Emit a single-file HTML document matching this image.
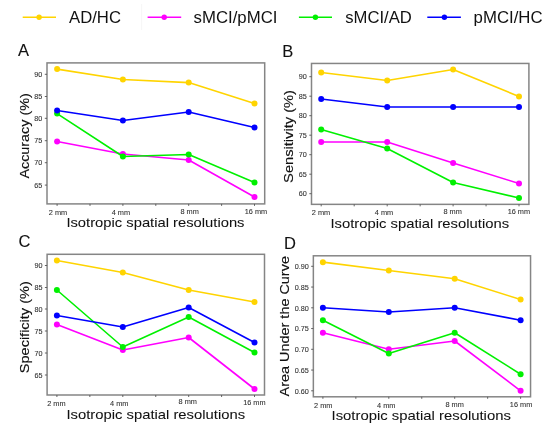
<!DOCTYPE html>
<html><head><meta charset="utf-8"><style>
html,body{margin:0;padding:0;background:#fff;}
svg{display:block;filter:blur(0.25px);}
text{font-family:"Liberation Sans",sans-serif;}
</style></head><body>
<svg width="550" height="428" viewBox="0 0 550 428">
<rect width="550" height="428" fill="#fff"/>
<line x1="141.7" y1="4" x2="141.7" y2="30" stroke="#f6f6f6" stroke-width="1"/>
<line x1="22.7" y1="17.3" x2="56" y2="17.3" stroke="#ffd400" stroke-width="1.6"/>
<circle cx="39.1" cy="17.3" r="2.7" fill="#ffd400"/>
<text x="69.0" y="23.3" font-size="15.6" text-anchor="start" fill="#111" textLength="52.0" lengthAdjust="spacingAndGlyphs" >AD/HC</text>
<line x1="147.6" y1="17.3" x2="181.2" y2="17.3" stroke="#ff00ff" stroke-width="1.6"/>
<circle cx="164.2" cy="17.3" r="2.7" fill="#ff00ff"/>
<text x="193.6" y="23.3" font-size="15.6" text-anchor="start" fill="#111" textLength="83.8" lengthAdjust="spacingAndGlyphs" >sMCI/pMCI</text>
<line x1="298.9" y1="17.3" x2="332" y2="17.3" stroke="#00f000" stroke-width="1.6"/>
<circle cx="315.4" cy="17.3" r="2.7" fill="#00f000"/>
<text x="345.2" y="23.3" font-size="15.6" text-anchor="start" fill="#111" textLength="66.6" lengthAdjust="spacingAndGlyphs" >sMCI/AD</text>
<line x1="427.3" y1="17.3" x2="460.9" y2="17.3" stroke="#0000ff" stroke-width="1.6"/>
<circle cx="444.4" cy="17.3" r="2.7" fill="#0000ff"/>
<text x="473.6" y="23.3" font-size="15.6" text-anchor="start" fill="#111" textLength="69.0" lengthAdjust="spacingAndGlyphs" >pMCI/HC</text>
<rect x="47.0" y="62.9" width="217.7" height="141.0" fill="none" stroke="#858585" stroke-width="1.5"/>
<line x1="57.10" y1="203.9" x2="57.10" y2="205.9" stroke="#555" stroke-width="0.9"/>
<line x1="90.00" y1="203.9" x2="90.00" y2="205.9" stroke="#555" stroke-width="0.9"/>
<line x1="122.90" y1="203.9" x2="122.90" y2="205.9" stroke="#555" stroke-width="0.9"/>
<line x1="155.80" y1="203.9" x2="155.80" y2="205.9" stroke="#555" stroke-width="0.9"/>
<line x1="188.70" y1="203.9" x2="188.70" y2="205.9" stroke="#555" stroke-width="0.9"/>
<line x1="221.60" y1="203.9" x2="221.60" y2="205.9" stroke="#555" stroke-width="0.9"/>
<line x1="254.50" y1="203.9" x2="254.50" y2="205.9" stroke="#555" stroke-width="0.9"/>
<text x="58.0" y="214.9" font-size="7.3" text-anchor="middle" fill="#303030" stroke="#303030" stroke-width="0.08" textLength="18.4" lengthAdjust="spacingAndGlyphs" >2 mm</text>
<text x="120.9" y="214.6" font-size="7.3" text-anchor="middle" fill="#303030" stroke="#303030" stroke-width="0.08" textLength="18.4" lengthAdjust="spacingAndGlyphs" >4 mm</text>
<text x="189.6" y="213.8" font-size="7.3" text-anchor="middle" fill="#303030" stroke="#303030" stroke-width="0.08" textLength="18.4" lengthAdjust="spacingAndGlyphs" >8 mm</text>
<text x="256.0" y="214.0" font-size="7.3" text-anchor="middle" fill="#303030" stroke="#303030" stroke-width="0.08" textLength="22.43" lengthAdjust="spacingAndGlyphs" >16 mm</text>
<line x1="44.8" y1="74.3" x2="47.0" y2="74.3" stroke="#555" stroke-width="0.9"/>
<text x="42.4" y="77.05" font-size="7.3" text-anchor="end" fill="#303030" stroke="#303030" stroke-width="0.08" textLength="8.06" lengthAdjust="spacingAndGlyphs" >90</text>
<line x1="44.8" y1="96.5" x2="47.0" y2="96.5" stroke="#555" stroke-width="0.9"/>
<text x="42.4" y="99.25" font-size="7.3" text-anchor="end" fill="#303030" stroke="#303030" stroke-width="0.08" textLength="8.06" lengthAdjust="spacingAndGlyphs" >85</text>
<line x1="44.8" y1="118.3" x2="47.0" y2="118.3" stroke="#555" stroke-width="0.9"/>
<text x="42.4" y="121.05" font-size="7.3" text-anchor="end" fill="#303030" stroke="#303030" stroke-width="0.08" textLength="8.06" lengthAdjust="spacingAndGlyphs" >80</text>
<line x1="44.8" y1="140.7" x2="47.0" y2="140.7" stroke="#555" stroke-width="0.9"/>
<text x="42.4" y="143.45" font-size="7.3" text-anchor="end" fill="#303030" stroke="#303030" stroke-width="0.08" textLength="8.06" lengthAdjust="spacingAndGlyphs" >75</text>
<line x1="44.8" y1="162.7" x2="47.0" y2="162.7" stroke="#555" stroke-width="0.9"/>
<text x="42.4" y="165.45" font-size="7.3" text-anchor="end" fill="#303030" stroke="#303030" stroke-width="0.08" textLength="8.06" lengthAdjust="spacingAndGlyphs" >70</text>
<line x1="44.8" y1="185.1" x2="47.0" y2="185.1" stroke="#555" stroke-width="0.9"/>
<text x="42.4" y="187.85" font-size="7.3" text-anchor="end" fill="#303030" stroke="#303030" stroke-width="0.08" textLength="8.06" lengthAdjust="spacingAndGlyphs" >65</text>
<polyline points="57.10,69.1 122.90,79.5 188.70,82.6 254.50,103.5" fill="none" stroke="#ffd400" stroke-width="1.6" stroke-linejoin="round"/>
<circle cx="57.10" cy="69.1" r="3.0" fill="#ffd400"/>
<circle cx="122.90" cy="79.5" r="3.0" fill="#ffd400"/>
<circle cx="188.70" cy="82.6" r="3.0" fill="#ffd400"/>
<circle cx="254.50" cy="103.5" r="3.0" fill="#ffd400"/>
<polyline points="57.10,141.5 122.90,154 188.70,160 254.50,197" fill="none" stroke="#ff00ff" stroke-width="1.6" stroke-linejoin="round"/>
<circle cx="57.10" cy="141.5" r="3.0" fill="#ff00ff"/>
<circle cx="122.90" cy="154" r="3.0" fill="#ff00ff"/>
<circle cx="188.70" cy="160" r="3.0" fill="#ff00ff"/>
<circle cx="254.50" cy="197" r="3.0" fill="#ff00ff"/>
<polyline points="57.10,113.6 122.90,156.5 188.70,154.5 254.50,182.5" fill="none" stroke="#00f000" stroke-width="1.6" stroke-linejoin="round"/>
<circle cx="57.10" cy="113.6" r="3.0" fill="#00f000"/>
<circle cx="122.90" cy="156.5" r="3.0" fill="#00f000"/>
<circle cx="188.70" cy="154.5" r="3.0" fill="#00f000"/>
<circle cx="254.50" cy="182.5" r="3.0" fill="#00f000"/>
<polyline points="57.10,110.5 122.90,120.5 188.70,112 254.50,127.5" fill="none" stroke="#0000ff" stroke-width="1.6" stroke-linejoin="round"/>
<circle cx="57.10" cy="110.5" r="3.0" fill="#0000ff"/>
<circle cx="122.90" cy="120.5" r="3.0" fill="#0000ff"/>
<circle cx="188.70" cy="112" r="3.0" fill="#0000ff"/>
<circle cx="254.50" cy="127.5" r="3.0" fill="#0000ff"/>
<text x="18" y="55.7" font-size="16.5" text-anchor="start" fill="#111" stroke="#111" stroke-width="0.1" >A</text>
<text x="0" y="0" font-size="12.8" text-anchor="middle" fill="#111" textLength="85.3" lengthAdjust="spacingAndGlyphs" stroke="#111" stroke-width="0.15" transform="translate(28.5,135.95) rotate(-90)">Accuracy (%)</text>
<text x="66.39999999999999" y="227.1" font-size="13.6" text-anchor="start" fill="#111" stroke="#111" stroke-width="0.06" textLength="178.1" lengthAdjust="spacingAndGlyphs" >Isotropic spatial resolutions</text>
<rect x="311.5" y="63.45" width="217.4" height="140.9" fill="none" stroke="#858585" stroke-width="1.5"/>
<line x1="321.20" y1="204.35" x2="321.20" y2="206.35" stroke="#555" stroke-width="0.9"/>
<line x1="354.20" y1="204.35" x2="354.20" y2="206.35" stroke="#555" stroke-width="0.9"/>
<line x1="387.20" y1="204.35" x2="387.20" y2="206.35" stroke="#555" stroke-width="0.9"/>
<line x1="420.15" y1="204.35" x2="420.15" y2="206.35" stroke="#555" stroke-width="0.9"/>
<line x1="453.10" y1="204.35" x2="453.10" y2="206.35" stroke="#555" stroke-width="0.9"/>
<line x1="486.05" y1="204.35" x2="486.05" y2="206.35" stroke="#555" stroke-width="0.9"/>
<line x1="519.00" y1="204.35" x2="519.00" y2="206.35" stroke="#555" stroke-width="0.9"/>
<text x="321.0" y="214.9" font-size="7.3" text-anchor="middle" fill="#303030" stroke="#303030" stroke-width="0.08" textLength="18.4" lengthAdjust="spacingAndGlyphs" >2 mm</text>
<text x="384.0" y="214.5" font-size="7.3" text-anchor="middle" fill="#303030" stroke="#303030" stroke-width="0.08" textLength="18.4" lengthAdjust="spacingAndGlyphs" >4 mm</text>
<text x="452.6" y="213.8" font-size="7.3" text-anchor="middle" fill="#303030" stroke="#303030" stroke-width="0.08" textLength="18.4" lengthAdjust="spacingAndGlyphs" >8 mm</text>
<text x="518.9" y="214.0" font-size="7.3" text-anchor="middle" fill="#303030" stroke="#303030" stroke-width="0.08" textLength="22.43" lengthAdjust="spacingAndGlyphs" >16 mm</text>
<line x1="309.3" y1="76.7" x2="311.5" y2="76.7" stroke="#555" stroke-width="0.9"/>
<text x="306.9" y="79.45" font-size="7.3" text-anchor="end" fill="#303030" stroke="#303030" stroke-width="0.08" textLength="8.06" lengthAdjust="spacingAndGlyphs" >90</text>
<line x1="309.3" y1="96.2" x2="311.5" y2="96.2" stroke="#555" stroke-width="0.9"/>
<text x="306.9" y="98.95" font-size="7.3" text-anchor="end" fill="#303030" stroke="#303030" stroke-width="0.08" textLength="8.06" lengthAdjust="spacingAndGlyphs" >85</text>
<line x1="309.3" y1="115.7" x2="311.5" y2="115.7" stroke="#555" stroke-width="0.9"/>
<text x="306.9" y="118.45" font-size="7.3" text-anchor="end" fill="#303030" stroke="#303030" stroke-width="0.08" textLength="8.06" lengthAdjust="spacingAndGlyphs" >80</text>
<line x1="309.3" y1="135.2" x2="311.5" y2="135.2" stroke="#555" stroke-width="0.9"/>
<text x="306.9" y="137.95" font-size="7.3" text-anchor="end" fill="#303030" stroke="#303030" stroke-width="0.08" textLength="8.06" lengthAdjust="spacingAndGlyphs" >75</text>
<line x1="309.3" y1="154.7" x2="311.5" y2="154.7" stroke="#555" stroke-width="0.9"/>
<text x="306.9" y="157.45" font-size="7.3" text-anchor="end" fill="#303030" stroke="#303030" stroke-width="0.08" textLength="8.06" lengthAdjust="spacingAndGlyphs" >70</text>
<line x1="309.3" y1="174.2" x2="311.5" y2="174.2" stroke="#555" stroke-width="0.9"/>
<text x="306.9" y="176.95" font-size="7.3" text-anchor="end" fill="#303030" stroke="#303030" stroke-width="0.08" textLength="8.06" lengthAdjust="spacingAndGlyphs" >65</text>
<line x1="309.3" y1="193.7" x2="311.5" y2="193.7" stroke="#555" stroke-width="0.9"/>
<text x="306.9" y="196.45" font-size="7.3" text-anchor="end" fill="#303030" stroke="#303030" stroke-width="0.08" textLength="8.06" lengthAdjust="spacingAndGlyphs" >60</text>
<polyline points="321.20,72.5 387.20,80.5 453.10,69.5 519.00,96.5" fill="none" stroke="#ffd400" stroke-width="1.6" stroke-linejoin="round"/>
<circle cx="321.20" cy="72.5" r="3.0" fill="#ffd400"/>
<circle cx="387.20" cy="80.5" r="3.0" fill="#ffd400"/>
<circle cx="453.10" cy="69.5" r="3.0" fill="#ffd400"/>
<circle cx="519.00" cy="96.5" r="3.0" fill="#ffd400"/>
<polyline points="321.20,142 387.20,142 453.10,163 519.00,183.5" fill="none" stroke="#ff00ff" stroke-width="1.6" stroke-linejoin="round"/>
<circle cx="321.20" cy="142" r="3.0" fill="#ff00ff"/>
<circle cx="387.20" cy="142" r="3.0" fill="#ff00ff"/>
<circle cx="453.10" cy="163" r="3.0" fill="#ff00ff"/>
<circle cx="519.00" cy="183.5" r="3.0" fill="#ff00ff"/>
<polyline points="321.20,129.5 387.20,148.5 453.10,182.5 519.00,198" fill="none" stroke="#00f000" stroke-width="1.6" stroke-linejoin="round"/>
<circle cx="321.20" cy="129.5" r="3.0" fill="#00f000"/>
<circle cx="387.20" cy="148.5" r="3.0" fill="#00f000"/>
<circle cx="453.10" cy="182.5" r="3.0" fill="#00f000"/>
<circle cx="519.00" cy="198" r="3.0" fill="#00f000"/>
<polyline points="321.20,99 387.20,107 453.10,107 519.00,107" fill="none" stroke="#0000ff" stroke-width="1.6" stroke-linejoin="round"/>
<circle cx="321.20" cy="99" r="3.0" fill="#0000ff"/>
<circle cx="387.20" cy="107" r="3.0" fill="#0000ff"/>
<circle cx="453.10" cy="107" r="3.0" fill="#0000ff"/>
<circle cx="519.00" cy="107" r="3.0" fill="#0000ff"/>
<text x="282.2" y="56.6" font-size="16.5" text-anchor="start" fill="#111" stroke="#111" stroke-width="0.1" >B</text>
<text x="0" y="0" font-size="12.8" text-anchor="middle" fill="#111" textLength="92.8" lengthAdjust="spacingAndGlyphs" stroke="#111" stroke-width="0.15" transform="translate(293.0,136.5) rotate(-90)">Sensitivity (%)</text>
<text x="330.40000000000003" y="228.0" font-size="13.6" text-anchor="start" fill="#111" stroke="#111" stroke-width="0.06" textLength="178.7" lengthAdjust="spacingAndGlyphs" >Isotropic spatial resolutions</text>
<rect x="47.1" y="254.3" width="217.4" height="140.7" fill="none" stroke="#858585" stroke-width="1.5"/>
<line x1="56.90" y1="395.0" x2="56.90" y2="397.0" stroke="#555" stroke-width="0.9"/>
<line x1="89.85" y1="395.0" x2="89.85" y2="397.0" stroke="#555" stroke-width="0.9"/>
<line x1="122.80" y1="395.0" x2="122.80" y2="397.0" stroke="#555" stroke-width="0.9"/>
<line x1="155.75" y1="395.0" x2="155.75" y2="397.0" stroke="#555" stroke-width="0.9"/>
<line x1="188.70" y1="395.0" x2="188.70" y2="397.0" stroke="#555" stroke-width="0.9"/>
<line x1="221.60" y1="395.0" x2="221.60" y2="397.0" stroke="#555" stroke-width="0.9"/>
<line x1="254.50" y1="395.0" x2="254.50" y2="397.0" stroke="#555" stroke-width="0.9"/>
<text x="56.4" y="405.5" font-size="7.3" text-anchor="middle" fill="#303030" stroke="#303030" stroke-width="0.08" textLength="18.4" lengthAdjust="spacingAndGlyphs" >2 mm</text>
<text x="119.2" y="405.5" font-size="7.3" text-anchor="middle" fill="#303030" stroke="#303030" stroke-width="0.08" textLength="18.4" lengthAdjust="spacingAndGlyphs" >4 mm</text>
<text x="187.8" y="404.4" font-size="7.3" text-anchor="middle" fill="#303030" stroke="#303030" stroke-width="0.08" textLength="18.4" lengthAdjust="spacingAndGlyphs" >8 mm</text>
<text x="254.4" y="404.9" font-size="7.3" text-anchor="middle" fill="#303030" stroke="#303030" stroke-width="0.08" textLength="22.43" lengthAdjust="spacingAndGlyphs" >16 mm</text>
<line x1="44.9" y1="265.5" x2="47.1" y2="265.5" stroke="#555" stroke-width="0.9"/>
<text x="42.5" y="268.25" font-size="7.3" text-anchor="end" fill="#303030" stroke="#303030" stroke-width="0.08" textLength="8.06" lengthAdjust="spacingAndGlyphs" >90</text>
<line x1="44.9" y1="287.5" x2="47.1" y2="287.5" stroke="#555" stroke-width="0.9"/>
<text x="42.5" y="290.25" font-size="7.3" text-anchor="end" fill="#303030" stroke="#303030" stroke-width="0.08" textLength="8.06" lengthAdjust="spacingAndGlyphs" >85</text>
<line x1="44.9" y1="309" x2="47.1" y2="309" stroke="#555" stroke-width="0.9"/>
<text x="42.5" y="311.75" font-size="7.3" text-anchor="end" fill="#303030" stroke="#303030" stroke-width="0.08" textLength="8.06" lengthAdjust="spacingAndGlyphs" >80</text>
<line x1="44.9" y1="331" x2="47.1" y2="331" stroke="#555" stroke-width="0.9"/>
<text x="42.5" y="333.75" font-size="7.3" text-anchor="end" fill="#303030" stroke="#303030" stroke-width="0.08" textLength="8.06" lengthAdjust="spacingAndGlyphs" >75</text>
<line x1="44.9" y1="353" x2="47.1" y2="353" stroke="#555" stroke-width="0.9"/>
<text x="42.5" y="355.75" font-size="7.3" text-anchor="end" fill="#303030" stroke="#303030" stroke-width="0.08" textLength="8.06" lengthAdjust="spacingAndGlyphs" >70</text>
<line x1="44.9" y1="375" x2="47.1" y2="375" stroke="#555" stroke-width="0.9"/>
<text x="42.5" y="377.75" font-size="7.3" text-anchor="end" fill="#303030" stroke="#303030" stroke-width="0.08" textLength="8.06" lengthAdjust="spacingAndGlyphs" >65</text>
<polyline points="56.90,260.5 122.80,272.5 188.70,290 254.50,302" fill="none" stroke="#ffd400" stroke-width="1.6" stroke-linejoin="round"/>
<circle cx="56.90" cy="260.5" r="3.0" fill="#ffd400"/>
<circle cx="122.80" cy="272.5" r="3.0" fill="#ffd400"/>
<circle cx="188.70" cy="290" r="3.0" fill="#ffd400"/>
<circle cx="254.50" cy="302" r="3.0" fill="#ffd400"/>
<polyline points="56.90,324.5 122.80,350 188.70,337.5 254.50,389" fill="none" stroke="#ff00ff" stroke-width="1.6" stroke-linejoin="round"/>
<circle cx="56.90" cy="324.5" r="3.0" fill="#ff00ff"/>
<circle cx="122.80" cy="350" r="3.0" fill="#ff00ff"/>
<circle cx="188.70" cy="337.5" r="3.0" fill="#ff00ff"/>
<circle cx="254.50" cy="389" r="3.0" fill="#ff00ff"/>
<polyline points="56.90,290 122.80,347 188.70,317 254.50,352.5" fill="none" stroke="#00f000" stroke-width="1.6" stroke-linejoin="round"/>
<circle cx="56.90" cy="290" r="3.0" fill="#00f000"/>
<circle cx="122.80" cy="347" r="3.0" fill="#00f000"/>
<circle cx="188.70" cy="317" r="3.0" fill="#00f000"/>
<circle cx="254.50" cy="352.5" r="3.0" fill="#00f000"/>
<polyline points="56.90,315.5 122.80,327 188.70,307.5 254.50,342.5" fill="none" stroke="#0000ff" stroke-width="1.6" stroke-linejoin="round"/>
<circle cx="56.90" cy="315.5" r="3.0" fill="#0000ff"/>
<circle cx="122.80" cy="327" r="3.0" fill="#0000ff"/>
<circle cx="188.70" cy="307.5" r="3.0" fill="#0000ff"/>
<circle cx="254.50" cy="342.5" r="3.0" fill="#0000ff"/>
<text x="18.6" y="247.3" font-size="16.5" text-anchor="start" fill="#111" stroke="#111" stroke-width="0.1" >C</text>
<text x="0" y="0" font-size="12.8" text-anchor="middle" fill="#111" textLength="91.9" lengthAdjust="spacingAndGlyphs" stroke="#111" stroke-width="0.15" transform="translate(28.8,327.25) rotate(-90)">Specificity (%)</text>
<text x="66.39999999999999" y="419.09999999999997" font-size="13.6" text-anchor="start" fill="#111" stroke="#111" stroke-width="0.06" textLength="178.7" lengthAdjust="spacingAndGlyphs" >Isotropic spatial resolutions</text>
<rect x="313.35" y="255.8" width="217.2" height="141.0" fill="none" stroke="#858585" stroke-width="1.5"/>
<line x1="322.90" y1="396.8" x2="322.90" y2="398.8" stroke="#555" stroke-width="0.9"/>
<line x1="355.85" y1="396.8" x2="355.85" y2="398.8" stroke="#555" stroke-width="0.9"/>
<line x1="388.80" y1="396.8" x2="388.80" y2="398.8" stroke="#555" stroke-width="0.9"/>
<line x1="421.75" y1="396.8" x2="421.75" y2="398.8" stroke="#555" stroke-width="0.9"/>
<line x1="454.70" y1="396.8" x2="454.70" y2="398.8" stroke="#555" stroke-width="0.9"/>
<line x1="487.65" y1="396.8" x2="487.65" y2="398.8" stroke="#555" stroke-width="0.9"/>
<line x1="520.60" y1="396.8" x2="520.60" y2="398.8" stroke="#555" stroke-width="0.9"/>
<text x="323.2" y="407.6" font-size="7.3" text-anchor="middle" fill="#303030" stroke="#303030" stroke-width="0.08" textLength="18.4" lengthAdjust="spacingAndGlyphs" >2 mm</text>
<text x="386.2" y="407.6" font-size="7.3" text-anchor="middle" fill="#303030" stroke="#303030" stroke-width="0.08" textLength="18.4" lengthAdjust="spacingAndGlyphs" >4 mm</text>
<text x="454.6" y="406.5" font-size="7.3" text-anchor="middle" fill="#303030" stroke="#303030" stroke-width="0.08" textLength="18.4" lengthAdjust="spacingAndGlyphs" >8 mm</text>
<text x="521.1" y="407.1" font-size="7.3" text-anchor="middle" fill="#303030" stroke="#303030" stroke-width="0.08" textLength="22.43" lengthAdjust="spacingAndGlyphs" >16 mm</text>
<line x1="311.15000000000003" y1="266.3" x2="313.35" y2="266.3" stroke="#555" stroke-width="0.9"/>
<text x="308.75" y="269.05" font-size="7.3" text-anchor="end" fill="#303030" stroke="#303030" stroke-width="0.08" textLength="14.11" lengthAdjust="spacingAndGlyphs" >0.90</text>
<line x1="311.15000000000003" y1="287.05" x2="313.35" y2="287.05" stroke="#555" stroke-width="0.9"/>
<text x="308.75" y="289.8" font-size="7.3" text-anchor="end" fill="#303030" stroke="#303030" stroke-width="0.08" textLength="14.11" lengthAdjust="spacingAndGlyphs" >0.85</text>
<line x1="311.15000000000003" y1="307.8" x2="313.35" y2="307.8" stroke="#555" stroke-width="0.9"/>
<text x="308.75" y="310.55" font-size="7.3" text-anchor="end" fill="#303030" stroke="#303030" stroke-width="0.08" textLength="14.11" lengthAdjust="spacingAndGlyphs" >0.80</text>
<line x1="311.15000000000003" y1="328.55" x2="313.35" y2="328.55" stroke="#555" stroke-width="0.9"/>
<text x="308.75" y="331.3" font-size="7.3" text-anchor="end" fill="#303030" stroke="#303030" stroke-width="0.08" textLength="14.11" lengthAdjust="spacingAndGlyphs" >0.75</text>
<line x1="311.15000000000003" y1="349.3" x2="313.35" y2="349.3" stroke="#555" stroke-width="0.9"/>
<text x="308.75" y="352.05" font-size="7.3" text-anchor="end" fill="#303030" stroke="#303030" stroke-width="0.08" textLength="14.11" lengthAdjust="spacingAndGlyphs" >0.70</text>
<line x1="311.15000000000003" y1="370.05" x2="313.35" y2="370.05" stroke="#555" stroke-width="0.9"/>
<text x="308.75" y="372.8" font-size="7.3" text-anchor="end" fill="#303030" stroke="#303030" stroke-width="0.08" textLength="14.11" lengthAdjust="spacingAndGlyphs" >0.65</text>
<line x1="311.15000000000003" y1="390.8" x2="313.35" y2="390.8" stroke="#555" stroke-width="0.9"/>
<text x="308.75" y="393.55" font-size="7.3" text-anchor="end" fill="#303030" stroke="#303030" stroke-width="0.08" textLength="14.11" lengthAdjust="spacingAndGlyphs" >0.60</text>
<polyline points="322.90,262.15 388.80,270.45 454.70,278.75 520.60,299.5" fill="none" stroke="#ffd400" stroke-width="1.6" stroke-linejoin="round"/>
<circle cx="322.90" cy="262.15" r="3.0" fill="#ffd400"/>
<circle cx="388.80" cy="270.45" r="3.0" fill="#ffd400"/>
<circle cx="454.70" cy="278.75" r="3.0" fill="#ffd400"/>
<circle cx="520.60" cy="299.5" r="3.0" fill="#ffd400"/>
<polyline points="322.90,332.7 388.80,349.3 454.70,341 520.60,390.8" fill="none" stroke="#ff00ff" stroke-width="1.6" stroke-linejoin="round"/>
<circle cx="322.90" cy="332.7" r="3.0" fill="#ff00ff"/>
<circle cx="388.80" cy="349.3" r="3.0" fill="#ff00ff"/>
<circle cx="454.70" cy="341" r="3.0" fill="#ff00ff"/>
<circle cx="520.60" cy="390.8" r="3.0" fill="#ff00ff"/>
<polyline points="322.90,320.25 388.80,353.45 454.70,332.7 520.60,374.2" fill="none" stroke="#00f000" stroke-width="1.6" stroke-linejoin="round"/>
<circle cx="322.90" cy="320.25" r="3.0" fill="#00f000"/>
<circle cx="388.80" cy="353.45" r="3.0" fill="#00f000"/>
<circle cx="454.70" cy="332.7" r="3.0" fill="#00f000"/>
<circle cx="520.60" cy="374.2" r="3.0" fill="#00f000"/>
<polyline points="322.90,307.8 388.80,311.95 454.70,307.8 520.60,320.25" fill="none" stroke="#0000ff" stroke-width="1.6" stroke-linejoin="round"/>
<circle cx="322.90" cy="307.8" r="3.0" fill="#0000ff"/>
<circle cx="388.80" cy="311.95" r="3.0" fill="#0000ff"/>
<circle cx="454.70" cy="307.8" r="3.0" fill="#0000ff"/>
<circle cx="520.60" cy="320.25" r="3.0" fill="#0000ff"/>
<text x="284.0" y="248.5" font-size="16.5" text-anchor="start" fill="#111" stroke="#111" stroke-width="0.1" >D</text>
<text x="0" y="0" font-size="12.8" text-anchor="middle" fill="#111" textLength="140.3" lengthAdjust="spacingAndGlyphs" stroke="#111" stroke-width="0.15" transform="translate(288.6,326.25) rotate(-90)">Area Under the Curve</text>
<text x="331.5" y="420.4" font-size="13.6" text-anchor="start" fill="#111" stroke="#111" stroke-width="0.06" textLength="179.4" lengthAdjust="spacingAndGlyphs" >Isotropic spatial resolutions</text>
</svg>
</body></html>
